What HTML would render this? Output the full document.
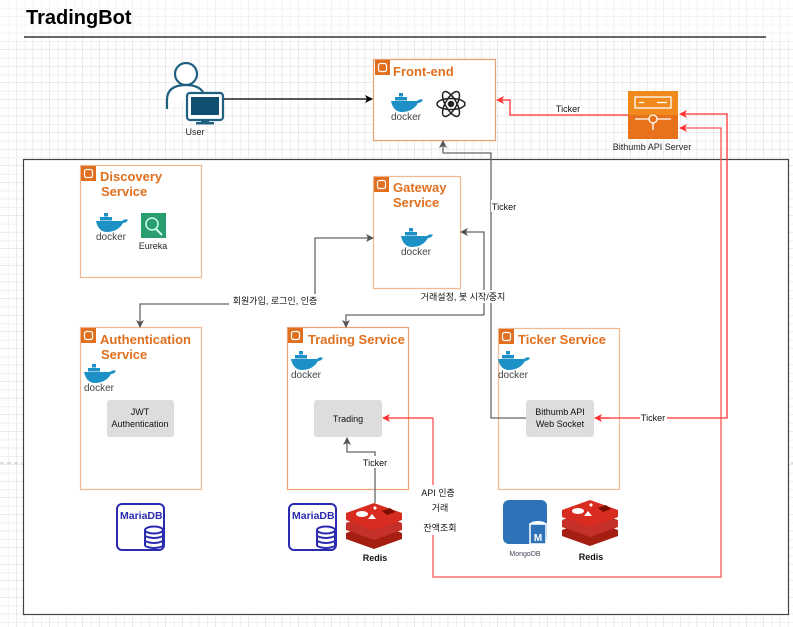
<!DOCTYPE html>
<html><head><meta charset="utf-8"><style>
html,body{margin:0;padding:0;background:#fff}
svg{display:block}
text{font-family:"Liberation Sans","Noto Sans CJK KR",sans-serif}
</style></head><body>
<svg width="793" height="627" viewBox="0 0 793 627" xmlns="http://www.w3.org/2000/svg">
<defs>
<pattern id="g" width="16.6" height="16.6" patternUnits="userSpaceOnUse" x="0" y="0">
<path d="M16.6 0V16.6M0 16.6H16.6" stroke="#d6d6d6" stroke-width="1" fill="none"/>
<path d="M8.3 0V16.6M0 8.3H16.6" stroke="#f0f0f0" stroke-width="1" fill="none"/>
</pattern>
<g id="dock">
<rect x="8" y="0" width="4" height="3.5" fill="#1d91c6"/>
<rect x="4" y="4" width="4" height="3.5" fill="#1d91c6"/><rect x="8" y="4" width="4" height="3.5" fill="#1d91c6"/><rect x="12" y="4" width="4" height="3.5" fill="#1d91c6"/>
<path d="M0 8 H26 Q29 5 32 7 Q30 10 27 10 Q22 19 10 19 Q2 18 0 8Z" fill="#1d91c6"/>
<text x="0" y="27" font-size="10" fill="#444">docker</text>
</g>
<g id="chip"><rect width="15" height="15" fill="#e07020"/><rect x="3.5" y="3.5" width="8" height="8" rx="2" fill="none" stroke="#fff" stroke-width="1.2"/></g>
<g id="maria"><rect x="1" y="1" width="47" height="46" rx="5" fill="#fff" stroke="#2b2bb0" stroke-width="2"/><text x="4" y="16" font-size="10.5" font-weight="bold" fill="#2b2bb0">MariaDB</text>
<ellipse cx="38" cy="27" rx="9" ry="3.5" fill="#fff" stroke="#2b2bb0" stroke-width="2"/><path d="M29 27V43M47 27V43M29 33Q38 37 47 33M29 38Q38 42 47 38M29 43Q38 47 47 43" fill="none" stroke="#2b2bb0" stroke-width="2"/></g>
<g id="redis">
<path d="M0 30 L28 20 L56 30 L56 36 L28 46 L0 36Z" fill="#a41e11"/>
<path d="M0 20 L28 10 L56 20 L56 27 L28 37 L0 27Z" fill="#c6302b"/>
<path d="M0 10 L28 0 L56 10 L56 17 L28 27 L0 17Z" fill="#d82c20"/>
<ellipse cx="16" cy="11" rx="6" ry="3" fill="#fff"/><path d="M22 16 L30 16 L26 11Z" fill="#fff"/><path d="M36 8 l8 -3 l5 4 l-8 3z" fill="#7a0c00"/><path d="M27 5 l2 -2 l2 2 l-2 2z" fill="#fff"/>
</g>
<marker id="ag" markerWidth="8" markerHeight="8" refX="7" refY="4" orient="auto" markerUnits="userSpaceOnUse"><path d="M0 0L8 4L0 8L2 4Z" fill="#555"/></marker>
<marker id="ak" markerWidth="8" markerHeight="8" refX="7" refY="4" orient="auto" markerUnits="userSpaceOnUse"><path d="M0 0L8 4L0 8L2 4Z" fill="#000"/></marker>
<marker id="ar" markerWidth="8" markerHeight="8" refX="7" refY="4" orient="auto" markerUnits="userSpaceOnUse"><path d="M0 0L8 4L0 8L2 4Z" fill="#f33"/></marker>
</defs>
<rect width="793" height="627" fill="url(#g)"/>
<rect x="0" y="0" width="793" height="40" fill="#fff" opacity="0.4"/>
<text x="26" y="24" font-size="20" font-weight="bold" fill="#000">TradingBot</text>
<line x1="24" y1="37" x2="766" y2="37" stroke="#333" stroke-width="1.5"/>
<line x1="763" y1="463" x2="793" y2="463" stroke="#bbb" stroke-dasharray="4 3"/>
<line x1="0" y1="463" x2="22" y2="463" stroke="#bbb" stroke-dasharray="4 3"/>

<!-- main container -->
<rect x="23.5" y="159.5" width="765" height="455" fill="#fff" stroke="#444" stroke-width="1.2"/>

<!-- user -->
<circle cx="186" cy="74" r="11" fill="#fff" stroke="#1f5f7f" stroke-width="2.2"/>
<path d="M167 109 V100 Q167 85 186 85 Q198 85 203 92" fill="#fff" stroke="#1f5f7f" stroke-width="2.2"/>
<rect x="187" y="93" width="36" height="27" rx="3" fill="#fff" stroke="#1f5f7f" stroke-width="2.2"/>
<rect x="191" y="97" width="28" height="18" fill="#0f4f6f"/>
<rect x="201" y="120" width="8" height="3" fill="#1f5f7f"/><rect x="196" y="122" width="18" height="2.5" fill="#1f5f7f"/>
<text x="195" y="135" font-size="9" text-anchor="middle" fill="#222">User</text>

<!-- frontend -->
<rect x="373.5" y="59.5" width="122" height="81" fill="#fff" stroke="#e8a070" stroke-width="1.2"/>
<use href="#chip" x="375" y="60"/>
<text x="393" y="76" font-size="13" font-weight="bold" fill="#e07020">Front-end</text>
<use href="#dock" x="391" y="93"/>
<g transform="translate(451,104)" fill="none" stroke="#222" stroke-width="1.5"><ellipse rx="14" ry="5.5"/><ellipse rx="14" ry="5.5" transform="rotate(60)"/><ellipse rx="14" ry="5.5" transform="rotate(-60)"/><circle r="2.5" fill="#222"/></g>

<!-- bithumb server -->
<rect x="628" y="91" width="50" height="48" fill="#e8721c"/>
<rect x="628" y="91" width="50" height="24" fill="#f08a1c"/>
<rect x="635" y="97" width="36" height="11" fill="none" stroke="#fff" stroke-width="1.3"/>
<line x1="639" y1="102.5" x2="644" y2="102.5" stroke="#fff" stroke-width="1.3"/><line x1="657" y1="102.5" x2="667" y2="102.5" stroke="#fff" stroke-width="1.3"/>
<line x1="635" y1="119" x2="671" y2="119" stroke="#fff" stroke-width="1.3"/><circle cx="653" cy="119" r="4" fill="#e8721c" stroke="#fff" stroke-width="1.3"/><line x1="653" y1="123" x2="653" y2="130" stroke="#fff" stroke-width="1.3"/>
<text x="652" y="150" font-size="9" text-anchor="middle" fill="#222">Bithumb API Server</text>

<!-- discovery -->
<rect x="80.5" y="165.5" width="121" height="112" fill="#fff" stroke="#f0b890" stroke-width="1.2"/>
<use href="#chip" x="81" y="166"/>
<text x="100" y="181" font-size="13" font-weight="bold" fill="#e07020">Discovery</text>
<text x="101" y="196" font-size="13" font-weight="bold" fill="#e07020">Service</text>
<use href="#dock" x="96" y="213"/>
<rect x="141" y="213" width="25" height="25" fill="#2a9d6f"/>
<circle cx="152" cy="224" r="6" fill="none" stroke="#cfe" stroke-width="1.5"/><line x1="156" y1="229" x2="162" y2="235" stroke="#cfe" stroke-width="2"/>
<text x="153" y="249" font-size="9" text-anchor="middle" fill="#222">Eureka</text>

<!-- gateway -->
<rect x="373.5" y="176.5" width="87" height="112" fill="#fff" stroke="#f0b890" stroke-width="1.2"/>
<use href="#chip" x="374" y="177"/>
<text x="393" y="192" font-size="13" font-weight="bold" fill="#e07020">Gateway</text>
<text x="393" y="207" font-size="13" font-weight="bold" fill="#e07020">Service</text>
<use href="#dock" x="401" y="228"/>

<!-- auth -->
<rect x="80.5" y="327.5" width="121" height="162" fill="#fff" stroke="#f0b890" stroke-width="1.2"/>
<use href="#chip" x="81" y="328"/>
<text x="100" y="344" font-size="13" font-weight="bold" fill="#e07020">Authentication</text>
<text x="101" y="359" font-size="13" font-weight="bold" fill="#e07020">Service</text>
<use href="#dock" x="84" y="364"/>
<rect x="107" y="400" width="67" height="37" rx="3" fill="#ddd"/>
<text x="140" y="415" font-size="9" text-anchor="middle" fill="#111">JWT</text>
<text x="140" y="427" font-size="9" text-anchor="middle" fill="#111">Authentication</text>

<!-- trading -->
<rect x="287.5" y="327.5" width="121" height="162" fill="#fff" stroke="#f0a070" stroke-width="1.2"/>
<use href="#chip" x="288" y="328"/>
<text x="308" y="344" font-size="13" font-weight="bold" fill="#e07020">Trading Service</text>
<use href="#dock" x="291" y="351"/>
<rect x="314" y="400" width="68" height="37" rx="3" fill="#ddd"/>
<text x="348" y="422" font-size="9" text-anchor="middle" fill="#111">Trading</text>

<!-- ticker -->
<rect x="498.5" y="328.5" width="121" height="161" fill="#fff" stroke="#f0b890" stroke-width="1.2"/>
<use href="#chip" x="499" y="329"/>
<text x="518" y="344" font-size="13" font-weight="bold" fill="#e07020">Ticker Service</text>
<use href="#dock" x="498" y="351"/>

<!-- connectors -->
<line x1="224" y1="99" x2="372" y2="99" stroke="#222" stroke-width="1.5" marker-end="url(#ak)"/>
<polyline points="628,115 510,115 510,100 497,100" fill="none" stroke="#f33" stroke-width="1.3" marker-end="url(#ar)"/>
<rect x="553" y="102" width="30" height="12" fill="#fff"/>
<text x="568" y="112" font-size="9" text-anchor="middle" fill="#111">Ticker</text>
<polyline points="596,418 727,418 727,114 680,114" fill="none" stroke="#f33" stroke-width="1.3" marker-end="url(#ar)"/>
<polyline points="433,418 433,577 721,577 721,128 680,128" fill="none" stroke="#f55" stroke-width="1.3" marker-end="url(#ar)"/>
<line x1="433" y1="418" x2="383" y2="418" stroke="#f33" stroke-width="1.3" marker-end="url(#ar)"/>
<line x1="610" y1="418" x2="595" y2="418" stroke="#f33" stroke-width="1.3" marker-end="url(#ar)"/>
<rect x="640" y="412" width="27" height="12" fill="#fff"/>
<text x="653" y="421" font-size="9" text-anchor="middle" fill="#111">Ticker</text>
<rect x="420" y="485" width="36" height="50" fill="#fff"/>
<text x="438" y="496" font-size="9" text-anchor="middle" fill="#111">API 인증</text>
<text x="440" y="511" font-size="9" text-anchor="middle" fill="#111">거래</text>
<text x="440" y="531" font-size="9" text-anchor="middle" fill="#111">잔액조회</text>

<polyline points="526,418 491,418 491,153 443,153 443,141" fill="none" stroke="#666" stroke-width="1.3" marker-end="url(#ag)"/>
<rect x="491" y="200" width="27" height="12" fill="#fff"/>
<text x="504" y="210" font-size="9" text-anchor="middle" fill="#111">Ticker</text>
<polyline points="484,315 346,315 346,327" fill="none" stroke="#666" stroke-width="1.3" marker-end="url(#ag)"/>
<polyline points="484,315 484,232 461,232" fill="none" stroke="#666" stroke-width="1.3" marker-end="url(#ag)"/>
<polyline points="315,304 140,304 140,327" fill="none" stroke="#666" stroke-width="1.3" marker-end="url(#ag)"/>
<polyline points="315,304 315,238 373,238" fill="none" stroke="#666" stroke-width="1.3" marker-end="url(#ag)"/>
<rect x="229" y="294" width="92" height="13" fill="#fff"/>
<text x="275" y="304" font-size="9" text-anchor="middle" fill="#111">회원가입, 로그인, 인증</text>
<rect x="417" y="290" width="92" height="13" fill="#fff"/>
<text x="463" y="300" font-size="9" text-anchor="middle" fill="#111">거래설정, 봇 시작/중지</text>
<polyline points="375,503 375,452 347,452 347,438" fill="none" stroke="#666" stroke-width="1.3" marker-end="url(#ag)"/>
<rect x="361" y="456" width="27" height="12" fill="#fff"/>
<text x="375" y="466" font-size="9" text-anchor="middle" fill="#111">Ticker</text>

<rect x="526" y="400" width="68" height="37" rx="3" fill="#ddd"/>
<text x="560" y="415" font-size="9" text-anchor="middle" fill="#111">Bithumb API</text>
<text x="560" y="427" font-size="9" text-anchor="middle" fill="#111">Web Socket</text>

<!-- DBs -->
<use href="#maria" x="116" y="503"/>
<use href="#maria" x="288" y="503"/>
<use href="#redis" x="346" y="503"/>
<text x="375" y="561" font-size="9" font-weight="bold" text-anchor="middle" fill="#111">Redis</text>
<rect x="503" y="500" width="44" height="44" rx="6" fill="#2e73b8"/>
<ellipse cx="538" cy="524" rx="8" ry="3" fill="#fff"/><rect x="530" y="524" width="16" height="20" fill="#2e73b8" stroke="#fff" stroke-width="1.5"/>
<text x="538" y="541" font-size="10" font-weight="bold" text-anchor="middle" fill="#fff">M</text>
<text x="525" y="556" font-size="7" text-anchor="middle" fill="#445">MongoDB</text>
<use href="#redis" x="562" y="500"/>
<text x="591" y="560" font-size="9" font-weight="bold" text-anchor="middle" fill="#111">Redis</text>
</svg>
</body></html>
